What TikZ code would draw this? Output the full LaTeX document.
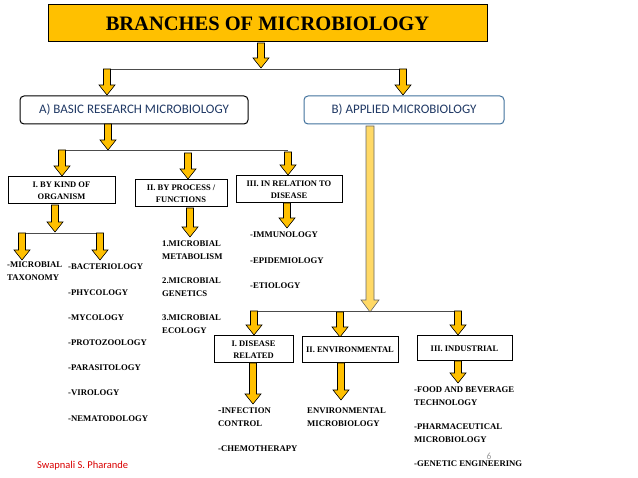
\documentclass[tikz,border=0pt]{standalone}
\usepackage{fontspec}
\setmainfont{Liberation Serif}
\newfontfamily\calfont{Carlito}
\definecolor{gold}{HTML}{FFC000}
\definecolor{pale}{HTML}{FFD966}
\definecolor{navy}{HTML}{1F3864}
\definecolor{bluegray}{HTML}{41719C}
\newcommand\darr[4][gold]{%
  \fill[#1,draw=black,line width=0.6pt] (#2-3.5,#3) -- (#2+3.5,#3) -- (#2+3.5,#4-10) -- (#2+8,#4-10) -- (#2,#4) -- (#2-8,#4-10) -- (#2-3.5,#4-10) -- cycle;}
\begin{document}
\begin{tikzpicture}[x=1pt,y=-1pt,
  lbl/.style={font=\bfseries\fontsize{8.7}{12.5}\selectfont,anchor=north west,inner sep=0pt,align=left},
  bx/.style={draw=black,line width=1pt,fill=white,font=\bfseries\fontsize{8.5}{12}\selectfont,align=center,inner sep=1pt},
  link/.style={draw=black!70,line width=0.6pt}]
\useasboundingbox (0,0) rectangle (638,478);
\node[draw=black,line width=1pt,fill=gold,minimum width=439pt,minimum height=37pt,font=\bfseries\fontsize{20.5}{24}\selectfont] (title) at (267.5,23.5) {BRANCHES OF MICROBIOLOGY};
\node[draw=black,line width=1pt,rounded corners=4pt,minimum width=228pt,minimum height=28pt,font=\calfont\fontsize{13}{16}\selectfont,text=navy] (A) at (134,110) {A) BASIC RESEARCH MICROBIOLOGY};
\node[draw=bluegray,line width=1pt,rounded corners=4pt,minimum width=200pt,minimum height=28pt,font=\calfont\fontsize{13}{16}\selectfont,text=navy] (B) at (404,110) {B) APPLIED MICROBIOLOGY};
\darr{261}{43}{68}
\draw[link] (107,69) -- (403,69);
\darr{107}{69}{95}
\darr{403}{69}{95}
\darr{108}{124}{150}
\draw[link] (62,150) -- (288,150);
\darr{62}{150}{176}
\darr{188}{153}{179}
\darr{288}{152}{175}
\node[bx,minimum width=107pt,minimum height=27pt] (b1) at (61.5,190.5) {I. BY KIND OF\\ORGANISM};
\node[bx,minimum width=92pt,minimum height=27pt] (b2) at (181,193.5) {II. BY PROCESS /\\FUNCTIONS};
\node[bx,minimum width=106pt,minimum height=27pt] (b3) at (289,189.5) {III. IN RELATION TO\\DISEASE};
\darr{55}{205}{232}
\draw[link] (20,233) -- (100,233);
\darr{22}{233}{260}
\darr{100}{233}{260}
\darr{190}{208}{237}
\darr{287}{203}{228}
\node[lbl] (t1) at (7,262) {-MICROBIAL\\TAXONOMY};
\node[lbl,align=left] (t2) at (68,264) {-BACTERIOLOGY\\[12.7pt]-PHYCOLOGY\\[12.7pt]-MYCOLOGY\\[12.7pt]-PROTOZOOLOGY\\[12.7pt]-PARASITOLOGY\\[12.7pt]-VIROLOGY\\[12.7pt]-NEMATODOLOGY};
\node[lbl] (t3) at (162,241) {1.MICROBIAL\\METABOLISM\\[12pt]2.MICROBIAL\\GENETICS\\[12pt]3.MICROBIAL\\ECOLOGY};
\node[lbl] (t4) at (250,232) {-IMMUNOLOGY\\[12.7pt]-EPIDEMIOLOGY\\[12.7pt]-ETIOLOGY};
\fill[pale,draw=black!60,line width=0.6pt] (366,126) -- (374,126) -- (374,300) -- (379,300) -- (370,312) -- (361,300) -- (366,300) -- cycle;
\draw[link] (254,311) -- (458,311);
\darr{254}{311}{335}
\darr{340}{312}{337}
\darr{458}{311}{335}
\node[bx,minimum width=79pt,minimum height=27pt] (c1) at (253.5,349.5) {I. DISEASE\\RELATED};
\node[bx,minimum width=96pt,minimum height=26pt] (c2) at (350,350) {II. ENVIRONMENTAL};
\node[bx,minimum width=95pt,minimum height=25pt] (c3) at (464.5,348.5) {III. INDUSTRIAL};
\darr{253}{363}{404}
\darr{341}{363}{400}
\darr{458}{361}{383}
\node[lbl] (d1) at (218,408) {{\fontsize{10}{12}\selectfont -}INFECTION\\CONTROL\\[12.7pt]-CHEMOTHERAPY};
\node[lbl] (d2) at (307,408) {ENVIRONMENTAL\\MICROBIOLOGY};
\node[lbl] (d3) at (414,387) {-FOOD AND BEVERAGE\\TECHNOLOGY\\[12pt]-PHARMACEUTICAL\\MICROBIOLOGY\\[12pt]-GENETIC ENGINEERING};
\node[font=\calfont\fontsize{10.5}{12}\selectfont,text=red!85!black,anchor=west,inner sep=0pt] (auth) at (37,466) {Swapnali S. Pharande};
\node[font=\calfont\fontsize{9.5}{10}\selectfont,text=black!40,inner sep=0pt] (pg) at (489,456) {6};
\end{tikzpicture}
\end{document}
